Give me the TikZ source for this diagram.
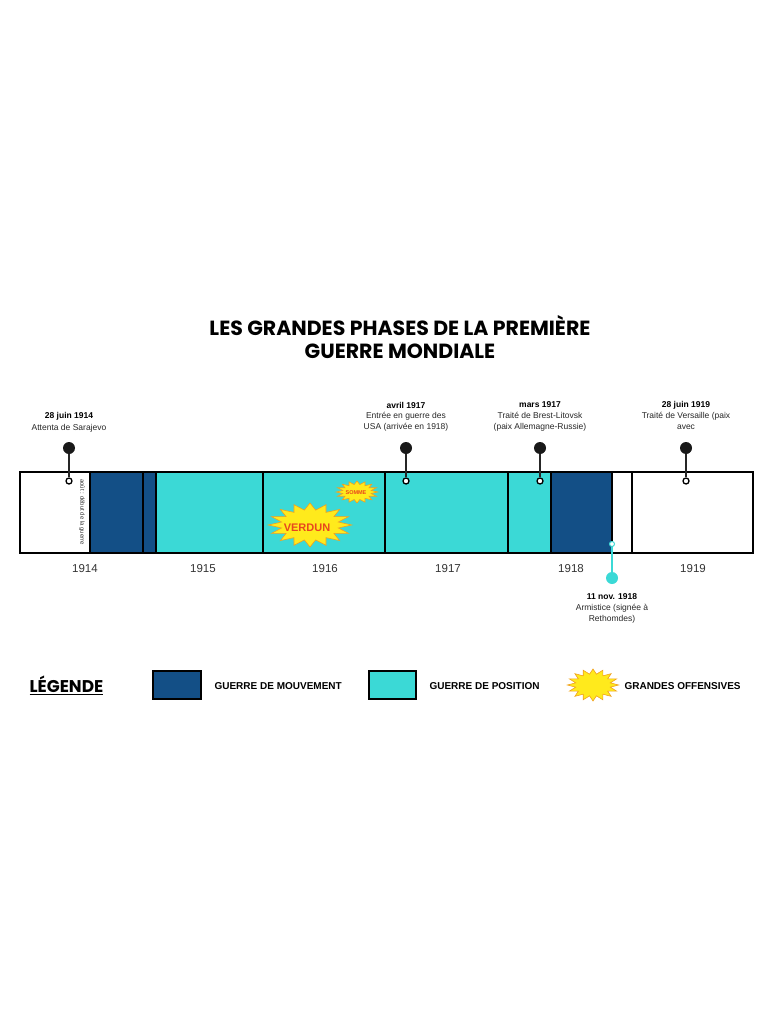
\documentclass[tikz,border=0pt]{standalone}
\usepackage{fontspec}
\setmainfont{Liberation Sans}
\newfontfamily\titlefont{Poppins}
\usetikzlibrary{shapes.geometric}
\definecolor{dblue}{HTML}{134F86}
\definecolor{cyanf}{HTML}{3BD9D6}
\definecolor{burst}{HTML}{FFEA1C}
\definecolor{burstline}{HTML}{F0A020}
\definecolor{burstt}{HTML}{E8461E}
\tikzset{
 seg/.style={draw=black, line width=1.6pt},
 lbl/.style={font=\fontsize{8.5}{11.5}\selectfont, align=center, text=black!85, anchor=north, inner sep=0},
 lblb/.style={font=\fontsize{8.5}{11}\selectfont\bfseries},
 year/.style={font=\fontsize{11.5}{12}\selectfont, text=black!80},
 ball/.style={circle, fill=black!90, inner sep=0, minimum size=12pt},
 ring/.style={circle, draw=black, line width=1.3pt, fill=white, inner sep=0, minimum size=6pt},
 pinline/.style={line width=1.5pt, black!85},
 starb/.style={star, star points=16, star point ratio=1.45, fill=burst, draw=burstline, line width=0.6pt, inner sep=0},
 legt/.style={font=\fontsize{10}{12}\selectfont\bfseries, anchor=west}
}
\begin{document}
\begin{tikzpicture}[x=1pt,y=-1pt]
\useasboundingbox (0,0) rectangle (768,1024);
\node[font=\titlefont\fontsize{20.5}{23}\selectfont\bfseries, align=center] (title) at (400,337) {LES GRANDES PHASES DE LA PREMIÈRE\\GUERRE MONDIALE};
% segments
\draw[seg, fill=white] (20,472) rectangle (90,553);
\draw[seg, fill=dblue] (90,472) rectangle (143,553);
\draw[seg, fill=dblue] (143,472) rectangle (156,553);
\draw[seg, fill=cyanf] (156,472) rectangle (263,553);
\draw[seg, fill=cyanf] (263,472) rectangle (385,553);
\draw[seg, fill=cyanf] (385,472) rectangle (508,553);
\draw[seg, fill=cyanf] (508,472) rectangle (551,553);
\draw[seg, fill=dblue] (551,472) rectangle (612,553);
\draw[seg, fill=white] (612,472) rectangle (632,553);
\draw[seg, fill=white] (632,472) rectangle (753,553);
\node[rotate=-90, font=\fontsize{6}{7}\selectfont, text=black!80] (aout) at (82,512) {août : début de la guerre};
% bursts
\begin{scope}[xscale=1.9, transform shape]
\node[starb, minimum size=44pt] (verdun) at (310/1.9,525) {};
\node[starb, minimum size=22pt] (somme) at (357/1.9,492) {};
\end{scope}
\node[font=\fontsize{11}{12}\selectfont\bfseries, text=burstt] (vt) at (307,528) {VERDUN};
\node[font=\fontsize{5.5}{6}\selectfont\bfseries, text=burstt] (st) at (356,493) {SOMME};
% pins
\foreach \n/\x in {a/69,b/406,c/540,d/686}{
 \node[ball] (b\n) at (\x,448) {};
 \node[ring] (r\n) at (\x,481) {};
 \draw[pinline] (b\n) -- (r\n);
}
\node[ball, fill=cyanf] (be) at (612,578) {};
\node[ring, draw=cyanf, minimum size=5pt, line width=1pt] (re) at (612,544) {};
\draw[line width=1.3pt, cyanf] (be) -- (re);
% labels
\node[lblb] (l1a) at (69,416) {28 juin 1914};
\node[lbl] (l1b) at (69,424) {Attenta de Sarajevo};
\node[lblb] (l2a) at (406,405) {avril 1917};
\node[lbl] (l2b) at (406,412) {Entrée en guerre des\\USA (arrivée en 1918)};
\node[lblb] (l3a) at (540,405) {mars 1917};
\node[lbl] (l3b) at (540,412) {Traité de Brest-Litovsk\\(paix Allemagne-Russie)};
\node[lblb] (l4a) at (686,405) {28 juin 1919};
\node[lbl] (l4b) at (686,412) {Traité de Versaille (paix\\avec};
\node[lblb] (l5a) at (612,597) {11 nov. 1918};
\node[lbl] (l5b) at (612,604) {Armistice (signée à\\Rethomdes)};
% years
\foreach \t/\x in {1914/85,1915/203,1916/325,1917/448,1918/571,1919/693}
 \node[year] (y\t) at (\x,569) {\t};
% legend
\node[font=\titlefont\fontsize{17}{19}\selectfont\bfseries, anchor=west] (leg) at (26,685) {\underline{LÉGENDE}};
\draw[seg, fill=dblue] (153,671) rectangle (201,699);
\node[legt] (lt1) at (211,686) {GUERRE DE MOUVEMENT};
\draw[seg, fill=cyanf] (369,671) rectangle (416,699);
\node[legt] (lt2) at (426,686) {GUERRE DE POSITION};
\begin{scope}[xscale=1.6, transform shape]
\node[starb, minimum size=32pt] (lstar) at (593/1.6,685) {};
\end{scope}
\node[legt] (lt3) at (621,686) {GRANDES OFFENSIVES};
\end{tikzpicture}
\end{document}
